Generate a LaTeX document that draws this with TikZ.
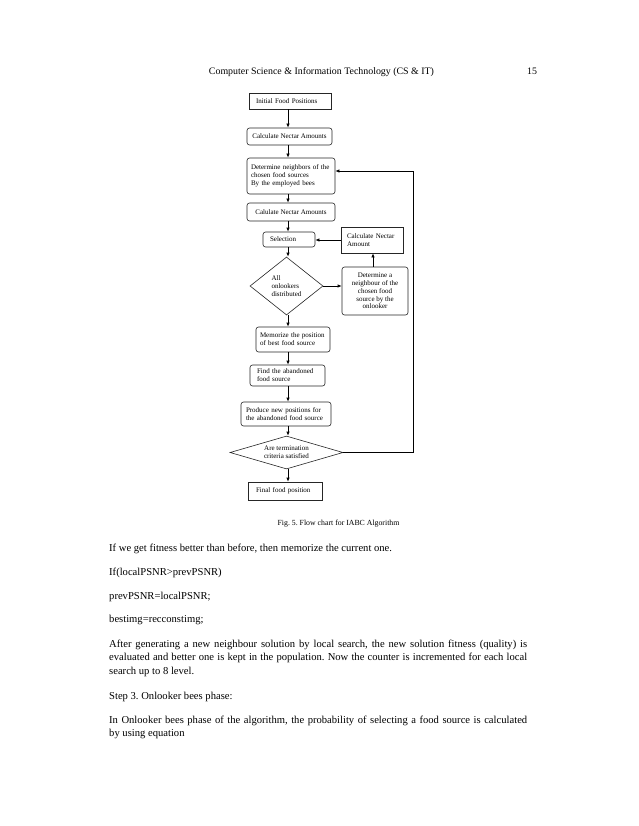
\documentclass[tikz,border=0pt]{standalone}
\usepackage{fontspec}
\setmainfont{Liberation Serif}
\usetikzlibrary{shapes.geometric,arrows.meta,calc}
\frenchspacing
\begin{document}
\begin{tikzpicture}[x=1pt,y=-1pt]
\tikzset{
 fc/.style={draw=black!85, line width=0.6pt, font=\fontsize{7}{7.8}\selectfont, inner ysep=0pt, inner xsep=0pt, align=center},
 rbox/.style={fc, rounded corners=2.5pt},
 dia/.style={fc, diamond, inner sep=0pt},
 arr/.style={line width=0.6pt, -{Latex[length=4pt,width=3.2pt]}},
 link/.style={line width=0.6pt},
 body/.style={font=\fontsize{10.6}{12}\selectfont, inner sep=0pt, anchor=base west},
}
\useasboundingbox (0,0) rectangle (638,826);
\fill[white] (0,0) rectangle (638,826);

% header
\node[body, font=\fontsize{9.9}{12}\selectfont, anchor=base] (hdr) at (321.5,75) {Computer Science \& Information Technology (CS \& IT)};
\node[body, font=\fontsize{9.9}{12}\selectfont] (pg) at (527,75) {15};

% flowchart
\coordinate (ax) at (288,0);
\coordinate (rt) at (413,0);
\node[fc, text width=68pt, inner xsep=7pt, align=left, minimum height=16pt] (init) at (290,101) {Initial Food Positions};
\node[rbox, minimum width=85pt, minimum height=17pt] (calc1) at (289.5,136.5) {Calculate Nectar Amounts};
\node[rbox, text width=80pt, inner xsep=4pt, align=left, minimum height=36pt] (det) at (291,176) {Determine neighbors of the\\chosen food sources\\By the employed bees};
\node[rbox, minimum width=88pt, minimum height=18pt] (calc2) at (291,212) {Calulate Nectar Amounts};
\node[rbox, text width=38pt, inner xsep=7pt, align=left, minimum height=15pt] (sel) at (289,239.5) {Selection};
\node[fc, text width=50pt, inner xsep=6pt, align=left, minimum height=26pt] (cna) at (372,240) {Calculate Nectar\\Amount};
\node[dia, align=left, aspect=1.25, minimum width=73pt, minimum height=58pt] (d1) at (286.5,286) {All\\onlookers\\distributed};
\node[rbox, minimum width=66pt, minimum height=48pt] (detn) at (375,291) {Determine a\\neighbour of the\\chosen food\\source by the\\onlooker};
\node[rbox, text width=66pt, inner xsep=4pt, align=left, minimum height=25pt] (mem) at (293,339.5) {Memorize the position\\of best food source};
\node[rbox, text width=61pt, inner xsep=7pt, align=left, minimum height=21pt] (find) at (287.5,375.5) {Find the abandoned\\food source};
\node[rbox, text width=80pt, inner xsep=5pt, align=left, minimum height=24pt] (prod) at (286,414) {Produce new positions for\\the abandoned food source};
\node[dia, aspect=3.4, minimum width=113pt, minimum height=33pt] (d2) at (286.5,452.5) {Are termination\\criteria satisfied};
\node[fc, text width=58pt, inner xsep=8pt, align=left, minimum height=18pt] (final) at (285,491) {Final food position};

% connectors
\draw[arr] (init.south -| ax) -- (calc1.north -| ax);
\draw[arr] (calc1.south -| ax) -- (det.north -| ax);
\draw[arr] (det.south -| ax) -- (calc2.north -| ax);
\draw[arr] (calc2.south -| ax) -- (sel.north -| ax);
\draw[arr] (sel.south -| ax) -- (d1.north -| ax);
\draw[arr] (d1.east) -- (d1.east -| detn.west);
\draw[arr] (detn.north -| 373,0) -- (cna.south -| 373,0);
\draw[arr] (cna.west) -- (cna.west -| sel.east);
\draw[arr] (d1.south -| ax) -- (mem.north -| ax);
\draw[arr] (mem.south -| ax) -- (find.north -| ax);
\draw[arr] (find.south -| ax) -- (prod.north -| ax);
\draw[arr] (prod.south -| ax) -- (d2.north -| ax);
\draw[arr] (d2.south -| ax) -- (final.north -| ax);
\draw[arr] (d2.east) -- (d2.east -| rt) |- ($(det.east)+(0,-5)$);

% caption
\node[body, font=\fontsize{7.8}{10}\selectfont, anchor=base] (cap) at (338.5,525) {Fig. 5. Flow chart for IABC Algorithm};

% body text
\node[body] (l1) at (109,551) {If we get fitness better than before, then memorize the current one.};
\node[body] (l2) at (109,575) {If(localPSNR>prevPSNR)};
\node[body] (l3) at (109,599) {prevPSNR=localPSNR;};
\node[body] (l4) at (109,622) {bestimg=recconstimg;};
\node[body] (l5) at (109,647) {\makebox[418pt][s]{After generating a new neighbour solution by local search, the new solution fitness (quality) is}};
\node[body] (l6) at (109,660.5) {\makebox[418pt][s]{evaluated and better one is kept in the population. Now the counter is incremented for each local}};
\node[body] (l7) at (109,674) {search up to 8 level.};
\node[body] (l8) at (109,699) {Step 3. Onlooker bees phase:};
\node[body] (l9) at (109,723) {\makebox[418pt][s]{In Onlooker bees phase of the algorithm, the probability of selecting a food source is calculated}};
\node[body] (l10) at (109,736.5) {by using equation};
\end{tikzpicture}
\end{document}
